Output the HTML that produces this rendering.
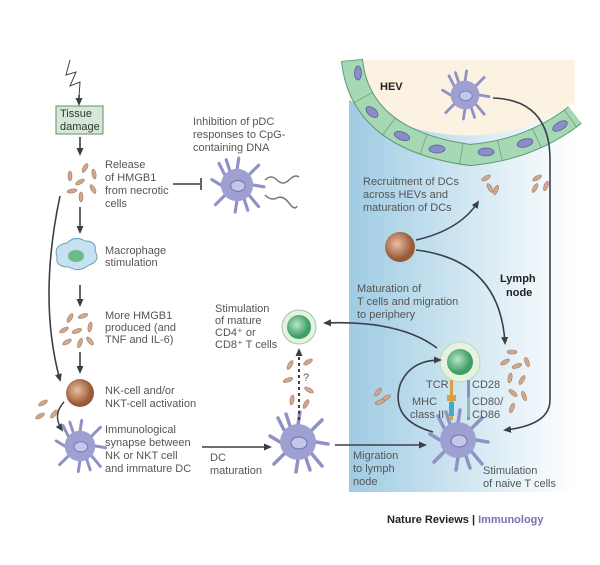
<!DOCTYPE html>
<html><head><meta charset="utf-8"><style>
body{margin:0;background:#fff}
svg text{font-family:"Liberation Sans",sans-serif;font-size:11px;fill:#555}
</style></head><body>
<svg width="600" height="560" viewBox="0 0 600 560" xmlns="http://www.w3.org/2000/svg">
<defs>
<linearGradient id="bg" x1="0" x2="1" y1="0" y2="0"><stop offset="0" stop-color="#9fcbe3"/><stop offset="0.6" stop-color="#d9ebf4"/><stop offset="1" stop-color="#ffffff"/></linearGradient>
<radialGradient id="gc" cx="0.4" cy="0.4"><stop offset="0" stop-color="#b8e6c8"/><stop offset="1" stop-color="#3e9e66"/></radialGradient>
<radialGradient id="br" cx="0.4" cy="0.4"><stop offset="0" stop-color="#e8c0a0"/><stop offset="1" stop-color="#9a5a38"/></radialGradient>
<marker id="ah" markerUnits="userSpaceOnUse" markerWidth="8" markerHeight="8" refX="6" refY="4" orient="auto"><path d="M0,0.5 L8,4 L0,7.5 z" fill="#3a4048"/></marker>
<g id="dc"><path d="M-18,0 L-28,-6 M-14,-12 L-20,-24 M0,-17 L2,-30 M14,-12 L24,-22 M18,0 L30,2 M14,12 L24,24 M0,17 L-2,30 M-14,12 L-24,22 M-8,-16 L-12,-28 M8,16 L12,28" stroke="#8f92c4" stroke-width="3.5" stroke-linecap="round"/><circle r="18" fill="#9da0d0"/><ellipse cx="1" cy="1" rx="8" ry="6" fill="#c4c7ea" stroke="#6d70a8"/></g>
<g id="p"><ellipse rx="2" ry="5" fill="#d0a890" stroke="#a57a60" stroke-width="0.6"/></g>
</defs>
<rect x="349" y="60" width="226" height="432" fill="url(#bg)"/>
<path d="M349,60 L575,60 L575,102 Q470,170 349,100 Z" fill="#fbf2e2"/>
<path d="M352,60 Q360,140 470,155 Q530,150 575,115" fill="none" stroke="#5f9a72" stroke-width="22"/>
<path d="M352,60 Q360,140 470,155 Q530,150 575,115" fill="none" stroke="#a6d8b4" stroke-width="20"/>
<path d="M352,60 Q360,140 470,155 Q530,150 575,115" fill="none" stroke="#5f9a72" stroke-width="22" stroke-dasharray="1 38" opacity="0.7"/>
<g fill="#8a8ec8" stroke="#5a5e98" stroke-width="0.8">
<ellipse cx="358" cy="73" rx="3.5" ry="7"/><ellipse cx="372" cy="112" rx="7" ry="4" transform="rotate(40 372 112)"/><ellipse cx="402" cy="136" rx="8" ry="4" transform="rotate(20 402 136)"/><ellipse cx="437" cy="149" rx="8" ry="4"/><ellipse cx="486" cy="152" rx="8" ry="4"/><ellipse cx="525" cy="143" rx="8" ry="4" transform="rotate(-15 525 143)"/><ellipse cx="560" cy="126" rx="8" ry="4" transform="rotate(-30 560 126)"/></g>
<text x="380" y="90" style="font-weight:bold;fill:#222">HEV</text>
<use href="#dc" transform="translate(465,95) scale(0.8)"/>
<path d="M493,98 Q550,100 550,160 L550,400 Q550,425 505,430" fill="none" stroke="#3a4048" stroke-width="1.6" marker-end="url(#ah)"/>
<text x="363" y="185">Recruitment of DCs</text><text x="363" y="198">across HEVs and</text><text x="363" y="211">maturation of DCs</text>
<use href="#p" transform="translate(486,178) rotate(60)"/><use href="#p" transform="translate(490,188) rotate(-30)"/><use href="#p" transform="translate(496,190) rotate(20)"/>
<use href="#p" transform="translate(537,178) rotate(60)"/><use href="#p" transform="translate(535,188) rotate(30)"/><use href="#p" transform="translate(546,186) rotate(20)"/>
<circle cx="400" cy="247" r="15" fill="url(#br)"/>
<path d="M416,240 Q460,230 478,202" fill="none" stroke="#3a4048" stroke-width="1.6" marker-end="url(#ah)"/>
<path d="M416,250 Q500,260 505,343" fill="none" stroke="#3a4048" stroke-width="1.6" marker-end="url(#ah)"/>
<text x="500" y="282" style="font-weight:bold;fill:#222">Lymph</text><text x="506" y="296" style="font-weight:bold;fill:#222">node</text>
<text x="357" y="292">Maturation of</text><text x="357" y="305">T cells and migration</text><text x="357" y="318">to periphery</text>
<path d="M437,348 Q400,320 325,323" fill="none" stroke="#3a4048" stroke-width="1.6" marker-end="url(#ah)"/>
<circle cx="460" cy="362" r="20" fill="#e6f2e0" stroke="#bcd8b8"/><circle cx="460" cy="362" r="13" fill="url(#gc)"/>
<rect x="450" y="380" width="3" height="40" fill="#d8a040"/><rect x="447" y="395" width="9" height="6" fill="#d8a040"/><rect x="449" y="402" width="5" height="14" fill="#4aa8c8"/>
<rect x="467" y="380" width="3" height="40" fill="#8a8ec8"/><rect x="467" y="397" width="3" height="20" fill="#8ac0a0"/>
<use href="#dc" transform="translate(458,440)"/>
<text x="426" y="388">TCR</text><text x="472" y="388">CD28</text><text x="412" y="405">MHC</text><text x="410" y="418">class II</text><text x="472" y="405">CD80/</text><text x="472" y="418">CD86</text>
<path d="M433,432 Q390,420 400,385 Q410,360 440,360" fill="none" stroke="#3a4048" stroke-width="1.6" marker-end="url(#ah)"/>
<use href="#p" transform="translate(378,392) rotate(40)"/><use href="#p" transform="translate(386,398) rotate(60)"/><use href="#p" transform="translate(380,402) rotate(70)"/>
<g><use href="#p" transform="translate(512,352) rotate(90)"/><use href="#p" transform="translate(505,362) rotate(60)"/><use href="#p" transform="translate(517,366) rotate(70)"/><use href="#p" transform="translate(527,362) rotate(-20)"/><use href="#p" transform="translate(510,378) rotate(10)"/><use href="#p" transform="translate(522,380) rotate(30)"/><use href="#p" transform="translate(513,393) rotate(-50)"/><use href="#p" transform="translate(524,396) rotate(-20)"/><use href="#p" transform="translate(512,408) rotate(20)"/></g>
<text x="483" y="474">Stimulation</text><text x="483" y="487">of naive T cells</text>
<text x="353" y="459">Migration</text><text x="353" y="472">to lymph</text><text x="353" y="485">node</text>
<path d="M335,445 L425,445" stroke="#3a4048" stroke-width="1.6" marker-end="url(#ah)"/>
<use href="#dc" transform="translate(298,442)"/>
<path d="M299,420 L299,350" stroke="#3a4048" stroke-width="2" stroke-dasharray="3 3" marker-end="url(#ah)"/>
<text x="303" y="381">?</text>
<use href="#p" transform="translate(290,365) rotate(30)"/><use href="#p" transform="translate(308,362) rotate(60)"/><use href="#p" transform="translate(288,380) rotate(70)"/><use href="#p" transform="translate(309,390) rotate(-60)"/><use href="#p" transform="translate(292,400) rotate(10)"/><use href="#p" transform="translate(306,404) rotate(30)"/>
<circle cx="299" cy="327" r="17" fill="#e6f2e0" stroke="#9cc8a0"/><circle cx="299" cy="327" r="12" fill="url(#gc)"/>
<text x="215" y="312">Stimulation</text><text x="215" y="324">of mature</text><text x="215" y="336">CD4⁺ or</text><text x="215" y="348">CD8⁺ T cells</text>
<path d="M202,447 L270,447" stroke="#3a4048" stroke-width="1.6" marker-end="url(#ah)"/>
<text x="210" y="461">DC</text><text x="210" y="474">maturation</text>
<path d="M70,60 L66,75 L76,72 L70,86 L80,82 L79,98" fill="none" stroke="#444" stroke-width="1"/>
<path d="M79,95 L79,104" stroke="#3a4048" stroke-width="1.6" marker-end="url(#ah)"/>
<rect x="56" y="106" width="47" height="28" fill="#d5e8d6" stroke="#6a8a70"/>
<text x="60" y="117" style="fill:#333">Tissue</text><text x="60" y="130" style="fill:#333">damage</text>
<path d="M80,137 L80,154" stroke="#3a4048" stroke-width="1.6" marker-end="url(#ah)"/>
<use href="#p" transform="translate(85,168) rotate(30)"/><use href="#p" transform="translate(70,176) rotate(0)"/><use href="#p" transform="translate(80,182) rotate(60)"/><use href="#p" transform="translate(94,174) rotate(-10)"/><use href="#p" transform="translate(72,191) rotate(80)"/><use href="#p" transform="translate(93,189) rotate(-30)"/><use href="#p" transform="translate(81,197) rotate(0)"/>
<text x="105" y="168">Release</text><text x="105" y="181">of HMGB1</text><text x="105" y="194">from necrotic</text><text x="105" y="207">cells</text>
<path d="M173,184 L200,184 M201,178 L201,190" stroke="#3a4048" stroke-width="1.6"/>
<use href="#dc" transform="translate(237,185) scale(0.9)"/>
<path d="M265,180 q6,-6 12,0 t12,0 t10,-3 M265,195 q6,6 12,3 t12,5 t8,3" fill="none" stroke="#777" stroke-width="1.5"/>
<text x="193" y="125">Inhibition of pDC</text><text x="193" y="138">responses to CpG-</text><text x="193" y="151">containing DNA</text>
<path d="M80,207 L80,232" stroke="#3a4048" stroke-width="1.6" marker-end="url(#ah)"/>
<path d="M57,257 q-4,-12 10,-14 q8,-8 18,-2 q12,0 10,10 q6,10 -6,14 q-10,8 -20,2 q-14,0 -12,-10z" fill="#c6e2f0" stroke="#6aa0c0"/>
<ellipse cx="76" cy="256" rx="8" ry="6" fill="#6cba88"/>
<text x="105" y="254">Macrophage</text><text x="105" y="266">stimulation</text>
<path d="M80,285 L80,305" stroke="#3a4048" stroke-width="1.6" marker-end="url(#ah)"/>
<use href="#p" transform="translate(70,318) rotate(30)"/><use href="#p" transform="translate(83,316) rotate(70)"/><use href="#p" transform="translate(64,330) rotate(60)"/><use href="#p" transform="translate(77,331) rotate(70)"/><use href="#p" transform="translate(90,327) rotate(10)"/><use href="#p" transform="translate(67,342) rotate(60)"/><use href="#p" transform="translate(80,343) rotate(20)"/><use href="#p" transform="translate(90,341) rotate(-40)"/>
<text x="105" y="319">More HMGB1</text><text x="105" y="331">produced (and</text><text x="105" y="343">TNF and IL-6)</text>
<path d="M80,352 L80,372" stroke="#3a4048" stroke-width="1.6" marker-end="url(#ah)"/>
<path d="M60,196 Q38,300 60,380" fill="none" stroke="#3a4048" stroke-width="1.6" marker-end="url(#ah)"/>
<circle cx="80" cy="393" r="14" fill="url(#br)"/>
<text x="105" y="394">NK-cell and/or</text><text x="105" y="407">NKT-cell activation</text>
<use href="#p" transform="translate(43,403) rotate(60)"/><use href="#p" transform="translate(40,416) rotate(60)"/><use href="#p" transform="translate(54,414) rotate(40)"/>
<path d="M64,402 Q52,415 62,430" fill="none" stroke="#3a4048" stroke-width="1.4" marker-end="url(#ah)"/>
<use href="#dc" transform="translate(80,446) scale(0.85)"/>
<text x="105" y="433">Immunological</text><text x="105" y="446">synapse between</text><text x="105" y="459">NK or NKT cell</text><text x="105" y="472">and immature DC</text>
<text x="387" y="523" style="font-weight:bold;fill:#222">Nature Reviews | <tspan style="fill:#7a70b0">Immunology</tspan></text>
</svg>
</body></html>
